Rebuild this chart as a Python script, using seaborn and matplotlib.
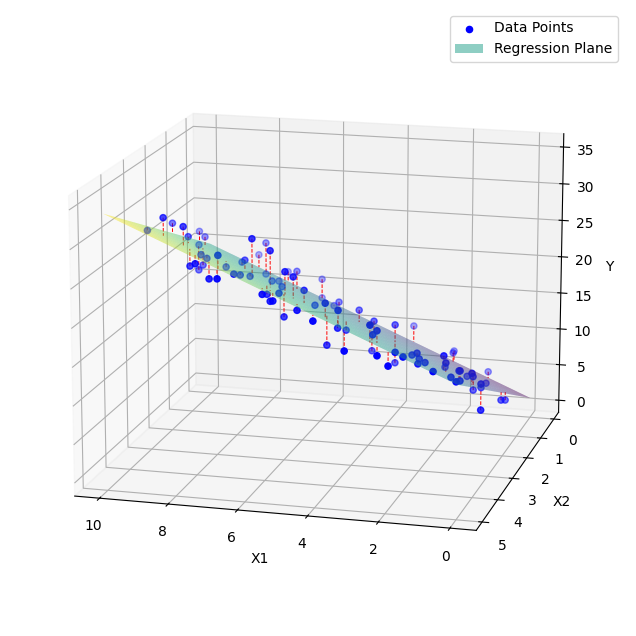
import numpy as np
import seaborn as sns
import matplotlib.pyplot as plt

# Data
x1_vals = [10.00,9.24,10.00,8.65,9.17,10.00,9.58,9.33,8.26,8.21,6.74,8.41,7.77,9.00,9.13,7.34,6.75,8.08,6.63,6.95,7.30,6.63,8.12,7.53,
           8.46,7.89,6.10,7.75,6.99,7.24,6.53,5.67,5.76,6.20,5.76,5.49,5.67,7.54,5.70,6.78,5.43,5.19,4.87,6.42,6.42,5.28,4.01,4.45,
           4.04,5.75,5.39,3.56,4.10,4.35,3.16,4.48,3.84,2.44,2.55,2.78,3.90,2.24,3.21,2.00,3.61,1.93,3.21,1.66,2.06,1.84,1.79,1.67,
           1.51,0.77,1.07,1.01,1.72,2.13,2.36,0.63,0.60,0.62,0.23,0.40,1.03,0.26,0.44,0.88,0.65,0.69,1.26,0.00,0.00,0.06,0.13]
x2_vals = [3.06,3.50,1.88,3.50,2.44,0.55,0.95,1.66,3.29,3.09,4.97,3.58,4.36,2.00,2.00,4.41,5.00,2.36,4.40,3.55,2.46,3.50,1.48,2.33,
           0.00,0.60,3.50,0.85,1.85,1.04,2.13,3.81,4.50,3.50,4.10,4.44,3.50,0.00,3.50,0.87,3.50,3.36,4.31,0.10,0.10,2.61,4.41,3.50,
           5.00,0.66,1.05,4.57,3.57,2.62,5.00,1.62,2.00,5.00,4.39,4.17,2.00,5.00,2.00,4.46,0.00,5.00,2.00,4.70,3.34,3.50,3.47,3.80,
           3.71,4.80,3.50,3.50,2.00,0.57,0.00,3.50,3.50,4.03,4.57,3.95,2.08,3.50,3.02,2.00,2.00,1.57,0.10,3.50,3.50,1.99,1.53]
y_vals = [27.8,30.6,26.3,29.6,25.9,22.4,22.6,23.1,25.6,24.7,29.6,24.7,26.9,21.2,20.5,25.2,26.7,22.0,26.0,23.9,21.2,28.6,20.7,23.0,
          18.4,21.5,27.2,17.8,19.3,17.4,19.3,22.5,23.9,21.5,22.1,23.0,24.6,16.3,18.7,18.5,24.0,22.0,21.7,15.8,13.2,18.3,23.1,15.4,
          22.2,13.6,15.1,22.7,17.9,15.3,18.7,15.6,15.2,22.2,20.0,18.9,11.2,18.4,14.9,17.6,9.9,17.2,9.8,17.7,14.5,15.2,14.4,14.6,
          14.6,16.4,15.1,14.2,9.7,8.0,6.8,13.3,13.3,13.8,14.7,13.2,8.9,13.1,11.4,6.9,7.3,6.8,4.5,8.4,11.8,5.8,4.6]

# Fitted plane coefficients
b0, b1, b2 = 1.0, 1.85, 2.9

fig = plt.figure(figsize=(6.36, 6.36), dpi=100)
ax = fig.add_axes([8/636, 8/636, 620/636, 620/636], projection='3d')

ax.scatter(x1_vals, x2_vals, y_vals, color='blue', label='Data Points')

xx, yy = np.meshgrid(np.linspace(0, 10, 30), np.linspace(0, 5, 30))
zz = b0 + b1 * xx + b2 * yy
ax.plot_surface(xx, yy, zz, alpha=0.5, cmap=sns.color_palette('viridis', as_cmap=True), label='Regression Plane')

# Residual lines from each point to the plane
for a, b, c in zip(x1_vals, x2_vals, y_vals):
    ax.plot([a, a], [b, b], [c, b0 + b1 * a + b2 * b], color='red', linestyle='--', linewidth=0.7)

ax.set_xlabel('X1')
ax.set_ylabel('X2')
ax.set_zlabel('Y')
ax.set_zlim(-1.7, 36.8)
ax.view_init(elev=15, azim=105)
ax.legend(loc='upper right', bbox_to_anchor=(1 - 3/620, 1 - 1/620))
fig.savefig('out.png')
